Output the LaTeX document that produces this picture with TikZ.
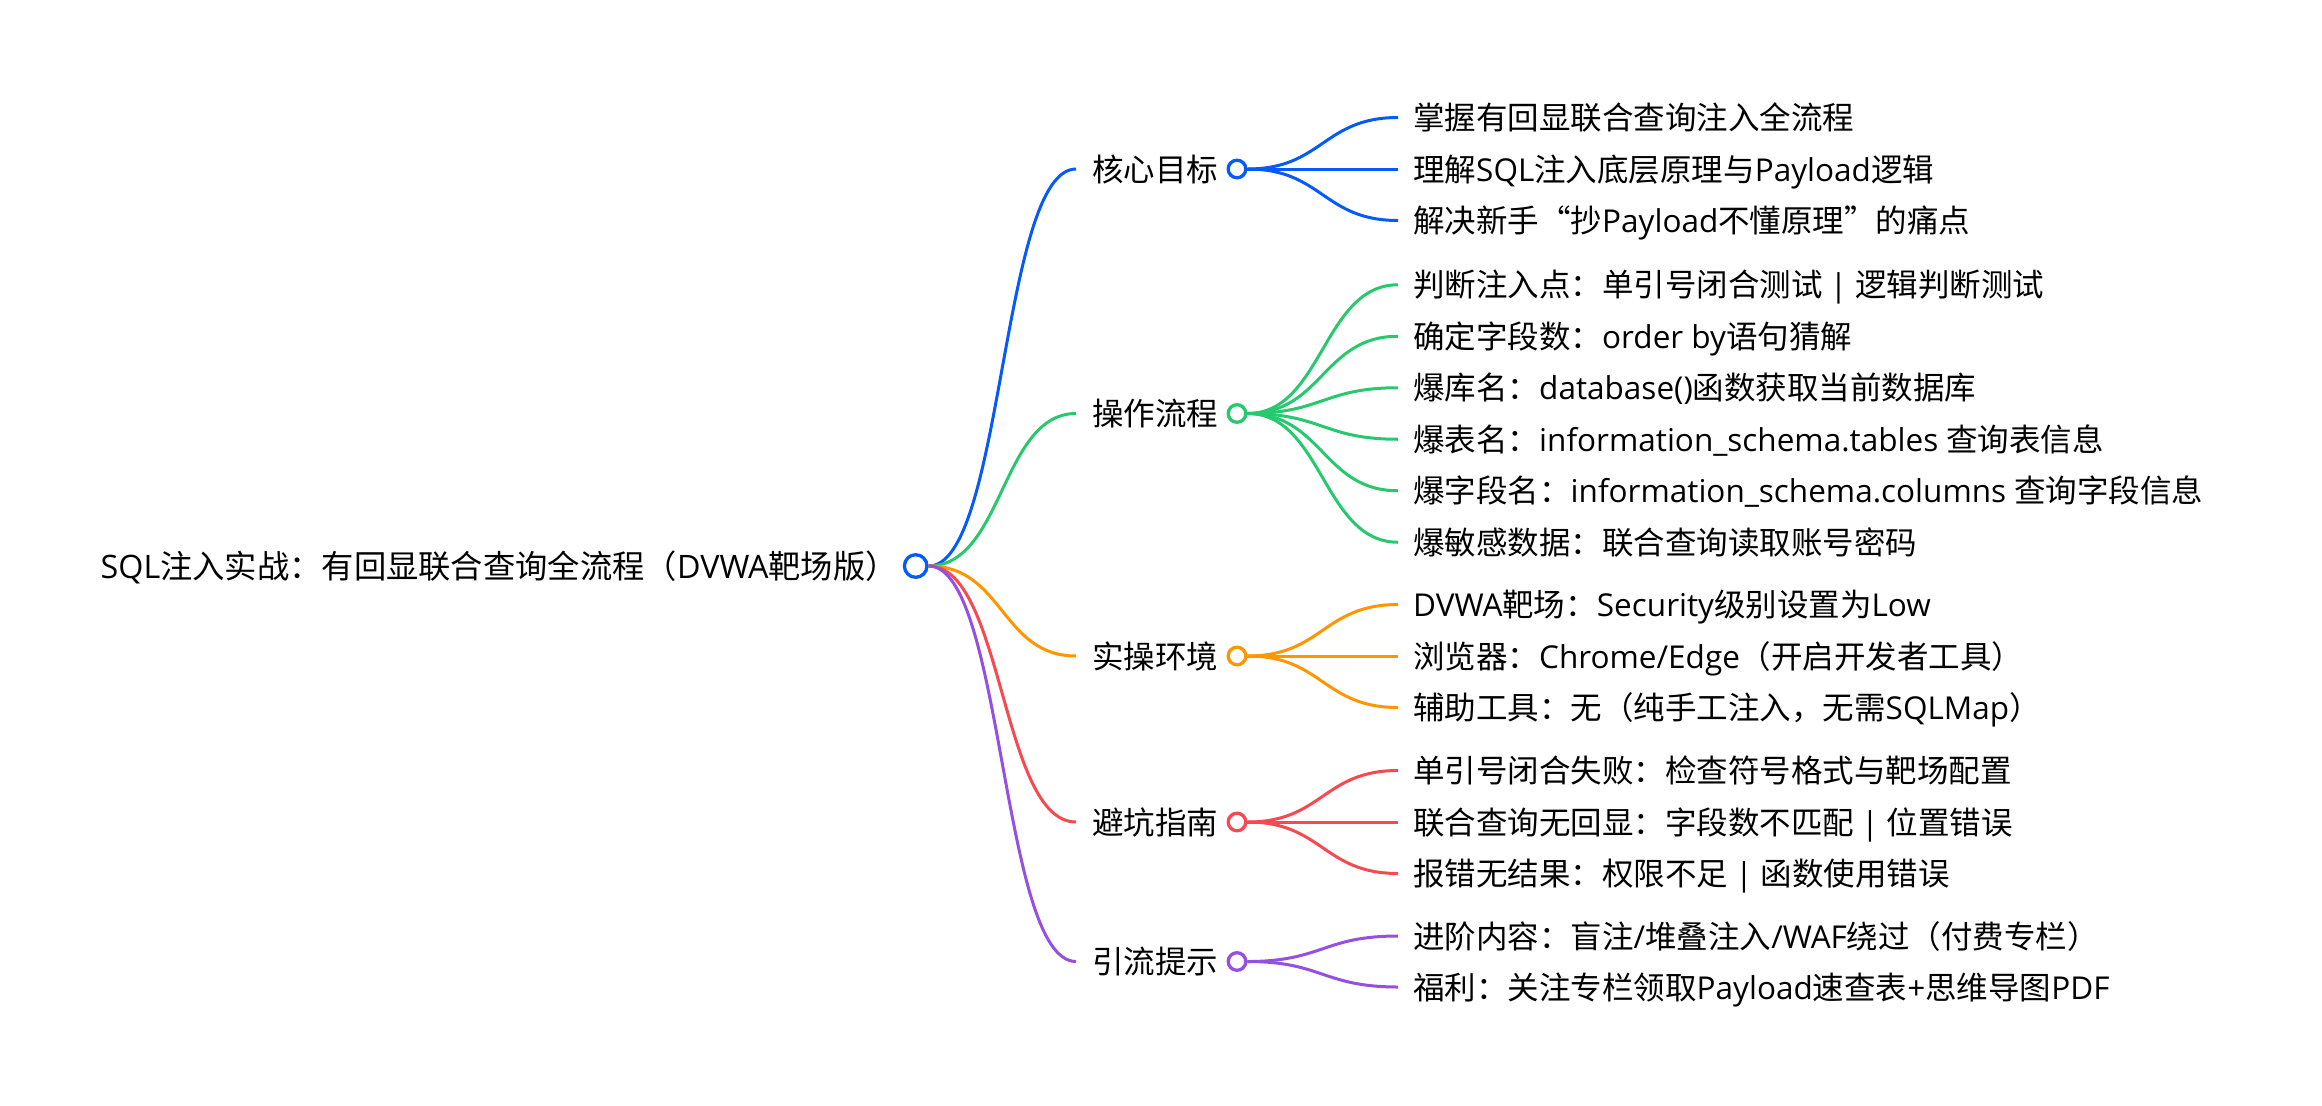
\documentclass[tikz,border=0pt]{standalone}
\usepackage{fontspec}
\newfontfamily\cjkfont{Noto Sans CJK SC}
\newfontfamily\latfont{Open Sans}
\XeTeXinterchartokenstate=1
\chardef\CJKcls=7
\makeatletter
\def\setcjkrange#1#2{\count@=#1\relax\loop\ifnum\count@<#2\relax\XeTeXcharclass\count@=\CJKcls\advance\count@\@ne\repeat}
\setcjkrange{"3000}{"3040}
\setcjkrange{"4E00}{"A000}
\setcjkrange{"FF00}{"FFF0}
\XeTeXcharclass"201C=\CJKcls
\XeTeXcharclass"201D=\CJKcls
\makeatother
\XeTeXinterchartoks 0 \CJKcls = {\cjkfont}
\XeTeXinterchartoks \CJKcls 0 = {\latfont}
\XeTeXinterchartoks 4095 \CJKcls = {\cjkfont}
\XeTeXinterchartoks 4095 0 = {\latfont}
\definecolor{cblue}{RGB}{5,90,250}
\definecolor{cgreen}{RGB}{40,200,110}
\definecolor{corange}{RGB}{255,150,0}
\definecolor{cred}{RGB}{245,75,80}
\definecolor{cpurple}{RGB}{150,80,225}
\tikzset{
  txt/.style={font=\cjkfont\fontsize{31.5}{38}\selectfont, text=black, inner ysep=0pt, inner xsep=15pt, anchor=base west},
  dot/.style={circle, draw, line width=3.3pt, minimum size=17.6pt, inner sep=0pt, fill=white},
  link/.style={line width=3pt}
}
\newcommand\mainbranch[5]{% name, color, y, text, dot
  \node[txt, inner xsep=16pt] (#1) at (1076,#3+12) {#4};
  \draw[link,#2] (root.east) .. controls +(75,0) and +(-75,0) .. ([yshift=12pt]#1.base west);
  \node[dot, draw=#2] (#5) at (1237,#3) {};
}
\newcommand\kid[5]{% name, parent, color, y, text
  \node[txt] (#1) at (1398,#4+12) {#5};
  \draw[link,#3] (#2.east) .. controls +(75,0) and +(-75,0) .. ([yshift=12pt]#1.base west);
}
\begin{document}
\begin{tikzpicture}[x=1pt,y=-1pt]
\useasboundingbox (0,0) rectangle (2322,1106);
\node[dot, draw=cblue, minimum size=22.6pt] (root) at (915.7,566) {};
\node[txt, anchor=base east, inner xsep=0pt, font=\cjkfont\fontsize{32.3}{38}\selectfont] (rootlabel) at (898,578) {SQL注入实战：有回显联合查询全流程（DVWA靶场版）};

\mainbranch{m1}{cblue}{169}{核心目标}{c1}
\mainbranch{m2}{cgreen}{413.5}{操作流程}{c2}
\mainbranch{m3}{corange}{656}{实操环境}{c3}
\mainbranch{m4}{cred}{822}{避坑指南}{c4}
\mainbranch{m5}{cpurple}{961.5}{引流提示}{c5}

\kid{a1}{c1}{cblue}{117.5}{掌握有回显联合查询注入全流程}
\kid{a2}{c1}{cblue}{169}{理解SQL注入底层原理与Payload逻辑}
\kid{a3}{c1}{cblue}{220.5}{解决新手“抄Payload不懂原理”的痛点}

\kid{b1}{c2}{cgreen}{284.75}{判断注入点：单引号闭合测试 | 逻辑判断测试}
\kid{b2}{c2}{cgreen}{336.25}{确定字段数：order by语句猜解}
\kid{b3}{c2}{cgreen}{387.75}{爆库名：database()函数获取当前数据库}
\kid{b4}{c2}{cgreen}{439.25}{爆表名：information\_schema.tables 查询表信息}
\kid{b5}{c2}{cgreen}{490.75}{爆字段名：information\_schema.columns 查询字段信息}
\kid{b6}{c2}{cgreen}{542.25}{爆敏感数据：联合查询读取账号密码}

\kid{d1}{c3}{corange}{604.5}{DVWA靶场：Security级别设置为Low}
\kid{d2}{c3}{corange}{656}{浏览器：Chrome/Edge（开启开发者工具）}
\kid{d3}{c3}{corange}{707.5}{辅助工具：无（纯手工注入，无需SQLMap）}

\kid{e1}{c4}{cred}{770.5}{单引号闭合失败：检查符号格式与靶场配置}
\kid{e2}{c4}{cred}{822}{联合查询无回显：字段数不匹配 | 位置错误}
\kid{e3}{c4}{cred}{873.5}{报错无结果：权限不足 | 函数使用错误}

\kid{f1}{c5}{cpurple}{936}{进阶内容：盲注/堆叠注入/WAF绕过（付费专栏）}
\kid{f2}{c5}{cpurple}{987}{福利：关注专栏领取Payload速查表+思维导图PDF}
\end{tikzpicture}
\end{document}
